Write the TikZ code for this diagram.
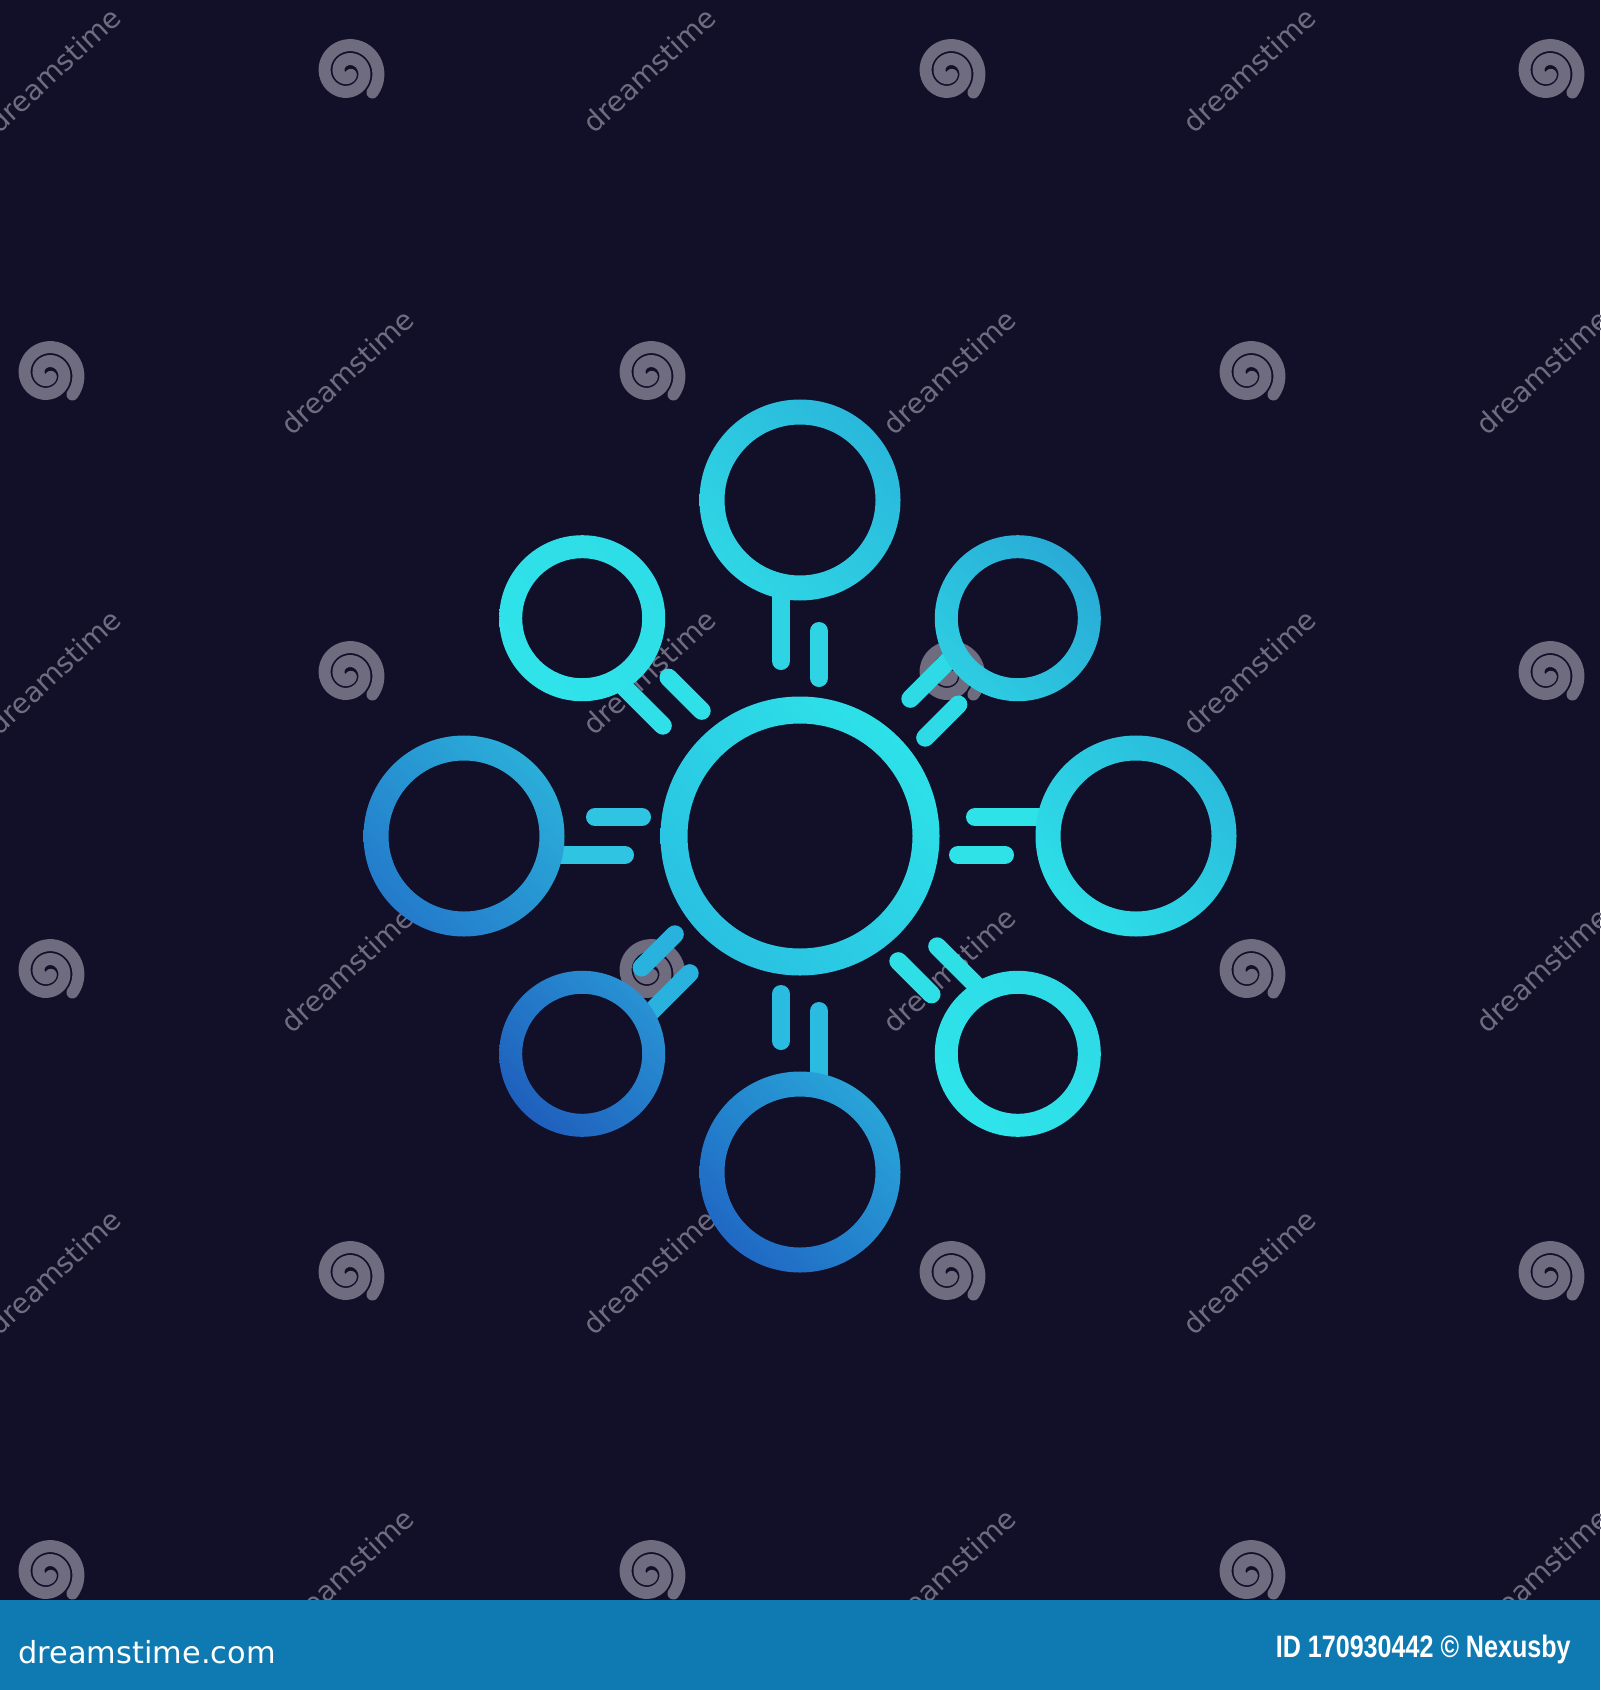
\documentclass[tikz,border=0pt]{standalone}
\usepackage{fontspec}
\setmainfont{DejaVu Sans}
\newfontfamily\bannerfont{Liberation Sans}
\usetikzlibrary{calc,shadings}
\definecolor{bg}{HTML}{120F29}
\definecolor{banner}{HTML}{0F79B2}
\definecolor{wm}{HTML}{6F6C80}
% per shape colours: tr = upper right, bl = lower left, cn = connector
\definecolor{hubtr}{HTML}{2EE8EA}\definecolor{hubbl}{HTML}{29BAE0}
\definecolor{tr0}{HTML}{29B2DA}\definecolor{bl0}{HTML}{30DCE6}\definecolor{cn0}{HTML}{2ED4E4}
\definecolor{tr1}{HTML}{28A4D4}\definecolor{bl1}{HTML}{2ED4E4}\definecolor{cn1}{HTML}{2EDAE6}
\definecolor{tr2}{HTML}{2AB4DA}\definecolor{bl2}{HTML}{2EE6EA}\definecolor{cn2}{HTML}{2EE2E8}
\definecolor{tr3}{HTML}{2ED8E6}\definecolor{bl3}{HTML}{2EE6EA}\definecolor{cn3}{HTML}{2EE0E6}
\definecolor{tr4}{HTML}{2AB0DC}\definecolor{bl4}{HTML}{1E5CC0}\definecolor{cn4}{HTML}{2ABCE0}
\definecolor{tr5}{HTML}{2A9CD8}\definecolor{bl5}{HTML}{1D55B8}\definecolor{cn5}{HTML}{2AB2DE}
\definecolor{tr6}{HTML}{2CB8DC}\definecolor{bl6}{HTML}{2270C8}\definecolor{cn6}{HTML}{2EC4E2}
\definecolor{tr7}{HTML}{2EDCE6}\definecolor{bl7}{HTML}{30E4EA}\definecolor{cn7}{HTML}{30E0E8}
\tikzset{
  link/.style={line width=9pt, line cap=round},
  ring/.style 2 args={even odd rule, upper right=#1, lower left=#2,
     upper left=#1!50!#2, lower right=#1!50!#2},
  swirl/.style={wm, line width=6pt, line cap=round},
  wmtext/.style={wm, font=\fontsize{14}{14}\selectfont, rotate=43},
}
\begin{document}
\begin{tikzpicture}[x=0.5pt,y=-0.5pt]
\fill[bg] (0,0) rectangle (1600,1690);
\useasboundingbox (0,0) rectangle (1600,1690);
% watermark spirals
\foreach \px/\py in {348/72,949/72,1548/72,48/374,649/374,1249/374,
  348/674,949/674,1548/674,48/972,649/972,1249/972,
  348/1274,949/1274,1548/1274,48/1573,649/1573,1249/1573}{
  \draw[swirl] plot[domain=0:715,samples=90,smooth]
    ({\px+(4+0.039*\x)*cos(-\x+675)},{\py-(4+0.039*\x)*sin(-\x+675)});
}
% watermark text
\foreach \px/\py in {54/70,649/70,1249/70,347/372,949/372,1542/372,
  54/672,649/672,1249/672,347/970,949/970,1542/970,
  54/1272,649/1272,1249/1272,347/1571,949/1571,1542/1571}{
  \node[wmtext] (w-\px-\py) at (\px,\py) {dreamstime};
}
\coordinate (hub) at (800,836);
% connectors and satellites
\foreach \k/\R/\ro/\ri in {0/336/100.5/75.5,1/308/83/60,2/336/100.5/75.5,3/308/83/60,
  4/336/100.5/75.5,5/308/83/60,6/336/100.5/75.5,7/308/83/60}{
  \pgfmathsetmacro\s{sin(45*\k)}
  \pgfmathsetmacro\c{cos(45*\k)}
  \pgfmathsetmacro\ta{\R-(\ro+\ri)/2}
  \coordinate (sat\k) at ({800+\R*\s},{836-\R*\c});
  \coordinate (stemA\k) at ({800+\ta*\s-19*\c},{836-\ta*\c-19*\s});
  \coordinate (stemB\k) at ({800+175*\s-19*\c},{836-175*\c-19*\s});
  \coordinate (freeA\k) at ({800+205*\s+19*\c},{836-205*\c+19*\s});
  \coordinate (freeB\k) at ({800+158*\s+19*\c},{836-158*\c+19*\s});
  \draw[link, cn\k] (stemA\k) -- (stemB\k);
  \draw[link, cn\k] (freeA\k) -- (freeB\k);
  \shade[ring={tr\k}{bl\k}] (sat\k) circle[radius=\ro] (sat\k) circle[radius=\ri];
}
% hub
\shade[ring={hubtr}{hubbl}] (hub) circle[radius=139.5] (hub) circle[radius=112.5];
% banner
\fill[banner] (0,1600) rectangle (1600,1690);
\node[anchor=base west, white, inner sep=0pt, font=\fontsize{15.2}{15.2}\selectfont] (brand) at (18,1663) {dreamstime.com};
\node[anchor=base east, white, inner sep=0pt, font=\bannerfont\bfseries\fontsize{15.5}{15.5}\selectfont, xscale=0.81] (credit) at (1571,1657) {ID 170930442 © Nexusby};
\end{tikzpicture}
\end{document}
